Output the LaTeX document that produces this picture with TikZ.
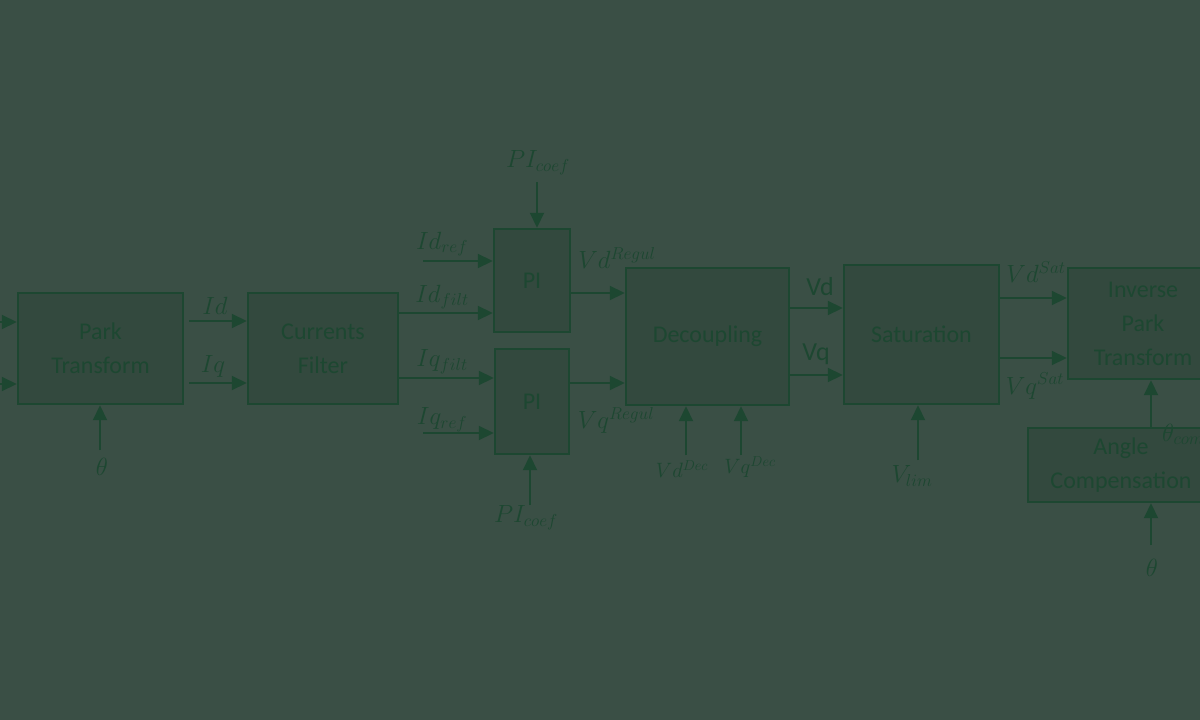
\documentclass[tikz,border=0pt]{standalone}
\usepackage{fontspec}
\setmainfont{Carlito}
\usetikzlibrary{arrows.meta}
\definecolor{bg}{HTML}{3A4F45}
\definecolor{bx}{HTML}{33493E}
\definecolor{ln}{HTML}{1D4731}
\begin{document}
\begin{tikzpicture}[x=1pt,y=-1pt,
  blk/.style={draw=ln,fill=bx,line width=2.4pt,inner sep=0pt,text=ln,font=\fontsize{24}{34}\selectfont,align=center},
  ar/.style={draw=ln,line width=1.8pt,-{Triangle[length=15pt,width=14pt]}},
  lb/.style={text=ln,font=\fontsize{25}{30}\selectfont,inner sep=0pt}]
\useasboundingbox (0,0) rectangle (1200,720);
\clip (0,0) rectangle (1200,720);
\fill[bg] (0,0) rectangle (1200,720);
\node[blk,minimum width=165pt,minimum height=111pt] (park) at (100.5,348.5) {Park\\Transform};
\node[blk,minimum width=150pt,minimum height=111pt] (cf) at (323,348.5) {Currents\\Filter};
\node[blk,minimum width=76pt,minimum height=103pt] (pi1) at (532,280.5) {PI};
\node[blk,minimum width=74pt,minimum height=105pt] (pi2) at (532,401.5) {PI};
\node[blk,minimum width=163pt,minimum height=137pt] (dec) at (707.5,336.5) {Decoupling};
\node[blk,minimum width=155pt,minimum height=139pt] (sat) at (921.5,334.5) {Saturation};
\node[blk,minimum width=150pt,minimum height=111pt] (inv) at (1143,323.5) {Inverse\\Park\\Transform};
\node[blk,minimum width=186pt,minimum height=74pt] (ang) at (1121,465) {Angle\\Compensation};
\coordinate (l1) at (-10,322); \coordinate (l2) at (-10,384);
\draw[ar] (l1) -- (park.west |- l1);
\draw[ar] (l2) -- (park.west |- l2);
\coordinate (th1) at (100,450);
\draw[ar] (th1) -- (park.south -| th1);
\node[lb] at (102,467) {$\theta$};
\draw[ar] (189,321) coordinate (a1) -- (cf.west |- a1);
\draw[ar] (189,383) coordinate (a2) -- (cf.west |- a2);
\node[lb] at (215,306) {$Id$};
\node[lb] at (213,366) {$Iq$};
\draw[ar] (cf.east |- 0,313) -- (pi1.west |- 0,313);
\draw[ar] (cf.east |- 0,378) -- (pi2.west |- 0,378);
\coordinate (idr) at (423,261); \coordinate (iqr) at (423,433);
\draw[ar] (idr) -- (pi1.west |- idr);
\draw[ar] (iqr) -- (pi2.west |- iqr);
\node[lb] at (442,244) {$Id_{ref}$};
\node[lb] at (442,297) {$Id_{filt}$};
\node[lb] at (442,362) {$Iq_{filt}$};
\node[lb] at (442,420) {$Iq_{ref}$};
\coordinate (pc1) at (537,182); \coordinate (pc2) at (530,505);
\draw[ar] (pc1) -- (pi1.north -| pc1);
\draw[ar] (pc2) -- (pi2.south -| pc2);
\node[lb] at (538,163) {$PI_{coef}$};
\node[lb] at (526,518) {$PI_{coef}$};
\draw[ar] (pi1.east |- 0,293) -- (dec.west |- 0,293);
\draw[ar] (pi2.east |- 0,383) -- (dec.west |- 0,383);
\node[lb] at (617,258) {$Vd^{Regul}$};
\node[lb] at (616,420) {$Vq^{Regul}$};
\draw[ar] (dec.east |- 0,308) -- (sat.west |- 0,308);
\draw[ar] (dec.east |- 0,375) -- (sat.west |- 0,375);
\node[lb,font=\fontsize{26}{30}\rmfamily] at (820,287) {Vd};
\node[lb,font=\fontsize{26}{30}\rmfamily] at (816,354) {Vq};
\coordinate (vdd) at (686,455); \coordinate (vqd) at (741,455);
\draw[ar] (vdd) -- (dec.south -| vdd);
\draw[ar] (vqd) -- (dec.south -| vqd);
\node[lb,font=\fontsize{22}{26}\selectfont] at (682,469) {$Vd^{Dec}$};
\node[lb,font=\fontsize{22}{26}\selectfont] at (750,467) {$Vq^{Dec}$};
\coordinate (vl) at (918,460);
\draw[ar] (vl) -- (sat.south -| vl);
\node[lb] at (912,476) {$V_{lim}$};
\draw[ar] (sat.east |- 0,298) -- (inv.west |- 0,298);
\draw[ar] (sat.east |- 0,358) -- (inv.west |- 0,358);
\node[lb] at (1036,272) {$Vd^{Sat}$};
\node[lb] at (1035,386) {$Vq^{Sat}$};
\draw[ar] (ang.north -| 1151,0) -- (inv.south -| 1151,0);
\node[lb,anchor=west] at (1162,436) {$\theta_{comp}$};
\coordinate (th2) at (1151,545);
\draw[ar] (th2) -- (ang.south -| th2);
\node[lb] at (1152,568) {$\theta$};
\end{tikzpicture}
\end{document}
